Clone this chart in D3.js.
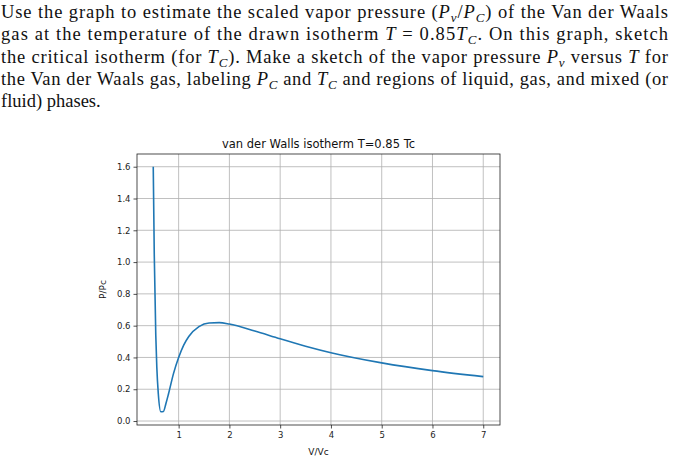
<!DOCTYPE html>
<html>
<head>
<meta charset="utf-8">
<script src="https://cdn.jsdelivr.net/npm/d3@7"></script>
<style>
  body { margin: 0; background: #fff; }
  svg text { font-family: "DejaVu Sans", sans-serif; }
  .prose { font-family: "Liberation Serif", "DejaVu Serif", serif; font-size: 18.5px; fill: #111; }
</style>
</head>
<body>
<svg id="chart" width="681" height="465"></svg>
<script>
// isotherm points
var volume = [0.5, 0.52, 0.55, 0.57, 0.6, 0.65, 0.7, 0.75, 0.8, 0.9, 1.0, 1.1, 1.2, 1.4, 1.6, 1.8, 2.0, 2.5, 3.0, 3.5, 4.0, 5.0, 6.0, 7.0];
var pressure = [1.6, 1.05, 0.54, 0.34, 0.17, 0.058, 0.06, 0.11, 0.17, 0.30, 0.40, 0.478, 0.532, 0.594, 0.617, 0.619, 0.61, 0.566, 0.517, 0.471, 0.43, 0.366, 0.317, 0.279];
var xTicks = [1, 2, 3, 4, 5, 6, 7];
var yTicks = [0, 0.2, 0.4, 0.6, 0.8, 1.0, 1.2, 1.4, 1.6];

// question text: [text, style] segments; style i = italic, s = subscript
var lines = [
  [["Use the graph to estimate the scaled vapor pressure ("], ["P", "i"], ["v", "si"], ["/"], ["P", "i"], ["C", "si"], [") of the Van der Waals"]],
  [["gas at the temperature of the drawn isotherm "], ["T", "i"], [" = 0.85"], ["T", "i"], ["C", "si"], [".  On this graph, sketch"]],
  [["the critical isotherm (for "], ["T", "i"], ["C", "si"], [").  Make a sketch of the vapor pressure "], ["P", "i"], ["v", "si"], [" versus "], ["T", "i"], [" for"]],
  [["the Van der Waals gas, labeling "], ["P", "i"], ["C", "si"], [" and "], ["T", "i"], ["C", "si"], [" and regions of liquid, gas, and mixed (or"]],
  [["fluid) phases."]]
];

var svg = d3.select("#chart");

lines.forEach(function (segs, i) {
  var t = svg.append("text").attr("class", "prose")
    .attr("x", 1).attr("y", 18 + i * 22.3);
  if (i < 4) t.attr("textLength", 667).attr("lengthAdjust", "spacing");
  var low = false;
  segs.forEach(function (s) {
    var st = s[1] || "";
    var sp = t.append("tspan").text(s[0]);
    if (st.indexOf("i") >= 0) sp.attr("font-style", "italic");
    if (st.indexOf("s") >= 0) { sp.attr("font-size", "13px").attr("dy", 4); low = true; }
    else if (low) { sp.attr("dy", -4); low = false; }
  });
});

var pL = 137, pR = 500, pT = 154, pB = 425;
var x = d3.scaleLinear().domain([0.18, 7.33]).range([pL, pR]);
var y = d3.scaleLinear().domain([-0.025, 1.68]).range([pB, pT]);

var g = svg.append("g");
// grid
g.selectAll(".gx").data(xTicks).enter().append("line")
  .attr("x1", d => x(d)).attr("x2", d => x(d)).attr("y1", pT).attr("y2", pB)
  .attr("stroke", "#b0b0b0").attr("stroke-width", 0.8);
g.selectAll(".gy").data(yTicks).enter().append("line")
  .attr("y1", d => y(d)).attr("y2", d => y(d)).attr("x1", pL).attr("x2", pR)
  .attr("stroke", "#b0b0b0").attr("stroke-width", 0.8);

var xAxis = svg.append("g").attr("transform", "translate(0," + pB + ")")
  .call(d3.axisBottom(x).tickValues(xTicks).tickFormat(d3.format("d")).tickSize(3.5).tickPadding(3));
var yAxis = svg.append("g").attr("transform", "translate(" + pL + ",0)")
  .call(d3.axisLeft(y).tickValues(yTicks).tickFormat(d3.format(".1f")).tickSize(3.5).tickPadding(3));
[xAxis, yAxis].forEach(function (a) {
  a.select(".domain").remove();
  a.selectAll("text").attr("font-size", "8.5px").attr("fill", "#222");
  a.selectAll("line").attr("stroke", "#222").attr("stroke-width", 0.8);
});

svg.append("rect").attr("x", pL).attr("y", pT).attr("width", pR - pL).attr("height", pB - pT)
  .attr("fill", "none").attr("stroke", "#222").attr("stroke-width", 0.8);

var pts = volume.map((v, i) => [v, pressure[i]]);
svg.append("path").datum(pts)
  .attr("d", d3.line().x(d => x(d[0])).y(d => y(d[1])).curve(d3.curveMonotoneX))
  .attr("fill", "none").attr("stroke", "#1f77b4").attr("stroke-width", 1.6);

svg.append("text").attr("x", (pL + pR) / 2).attr("y", 148).attr("text-anchor", "middle")
  .attr("font-size", "11.5px").attr("fill", "#111").text("van der Walls isotherm T=0.85 Tc");
svg.append("text").attr("x", (pL + pR) / 2).attr("y", 455).attr("text-anchor", "middle")
  .attr("font-size", "9px").attr("fill", "#111").text("V/Vc");
svg.append("text").attr("transform", "translate(106," + ((pT + pB) / 2) + ") rotate(-90)")
  .attr("text-anchor", "middle").attr("font-size", "9px").attr("fill", "#111").text("P/Pc");
</script>
</body>
</html>
